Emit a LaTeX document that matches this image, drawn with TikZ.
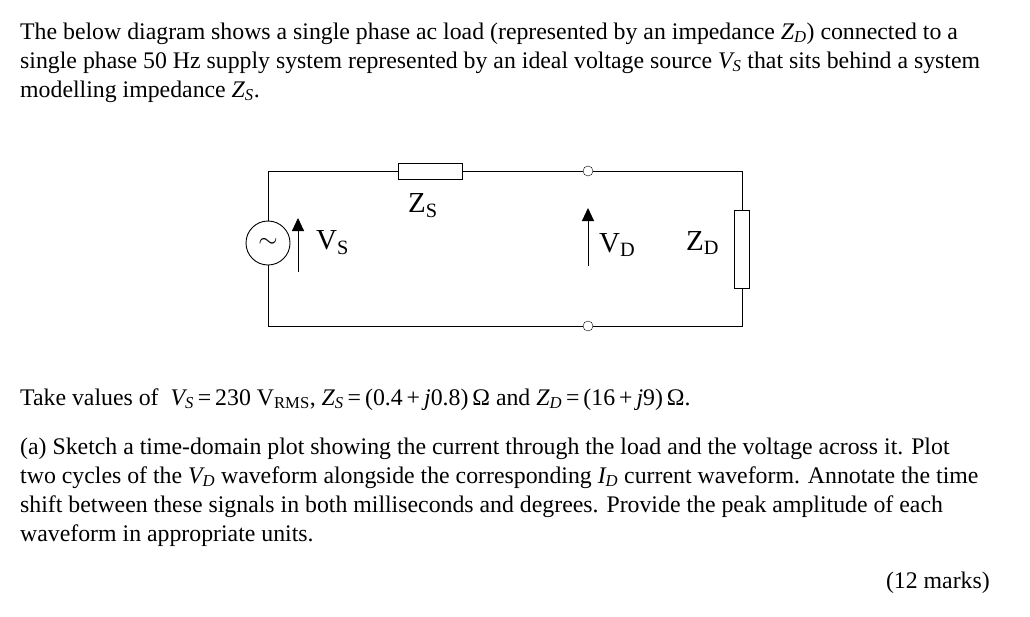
\documentclass[tikz,border=0pt]{standalone}
\usetikzlibrary{arrows.meta}
\usepackage{fontspec}
\setmainfont{Liberation Serif}
\begin{document}
\begin{tikzpicture}[x=1pt,y=-1pt,
  txt/.style={anchor=base west,inner sep=0,font=\fontsize{23.8}{29}\selectfont},
  lbl/.style={inner sep=0,font=\fontsize{29}{30}\selectfont},
  box/.style={draw,fill=white,line width=0.9pt},
  term/.style={circle,draw,fill=white,inner sep=0,minimum size=10pt},
  wire/.style={line width=0.9pt},
  varrow/.style={line width=0.9pt,-{Triangle[length=13pt,width=12pt]}}]
\useasboundingbox (0,0) rectangle (1030,616);
\node[txt] (t1) at (20,39) {The below diagram shows a single phase ac load (represented by an impedance \textit{Z\textsubscript{D}}) connected to a};
\node[txt] (t2) at (20,68) {single phase 50 Hz supply system represented by an ideal voltage source \textit{V\textsubscript{S}} that sits behind a system};
\node[txt] (t3) at (20,97) {modelling impedance \textit{Z\textsubscript{S}}.};
% circuit
\coordinate (tl) at (268,171); \coordinate (tr) at (742,171);
\coordinate (bl) at (268,326); \coordinate (br) at (742,326);
\draw[wire] (bl) -- (tl) -- (tr) -- (br) -- (bl);
\node[box,minimum width=64pt,minimum height=16pt,inner sep=0] (zs) at (430,171) {};
\node[box,minimum width=15pt,minimum height=78pt,inner sep=0] (zd) at (742,249) {};
\node[circle,draw,fill=white,line width=0.9pt,minimum size=44pt,inner sep=0] (src) at (268,243) {\fontsize{30}{30}\selectfont$\sim$};
\node[term] (a) at (588,171) {};
\node[term] (b) at (588,326) {};
\coordinate (vs1) at (298,272); \coordinate (vs2) at (298,218);
\draw[varrow] (vs1) -- (vs2);
\coordinate (vd1) at (588,266); \coordinate (vd2) at (588,208);
\draw[varrow] (vd1) -- (vd2);
\node[lbl,anchor=west] (lvs) at (316,243) {V\textsubscript{S}};
\node[lbl,anchor=west] (lvd) at (599,245) {V\textsubscript{D}};
\node[lbl,anchor=west] (lzd) at (686,243) {Z\textsubscript{D}};
\node[lbl,anchor=west] (lzs) at (408,206) {Z\textsubscript{S}};
% text below
\node[txt] (t4) at (20,405) {Take values of \ \textit{V\textsubscript{S}}\,=\,230 V\textsubscript{RMS}, \textit{Z\textsubscript{S}}\,=\,(0.4\,+\,\textit{j}0.8)\,Ω and \textit{Z\textsubscript{D}}\,=\,(16\,+\,\textit{j}9)\,Ω.};
\node[txt] (t5) at (20,454) {(a) Sketch a time-domain plot showing the current through the load and the voltage across it. Plot};
\node[txt] (t6) at (20,483) {two cycles of the \textit{V\textsubscript{D}} waveform alongside the corresponding \textit{I\textsubscript{D}} current waveform. Annotate the time};
\node[txt] (t7) at (20,512) {shift between these signals in both milliseconds and degrees. Provide the peak amplitude of each};
\node[txt] (t8) at (20,541) {waveform in appropriate units.};
\node[txt,anchor=base east] (t9) at (990,588) {(12 marks)};
\end{tikzpicture}
\end{document}
